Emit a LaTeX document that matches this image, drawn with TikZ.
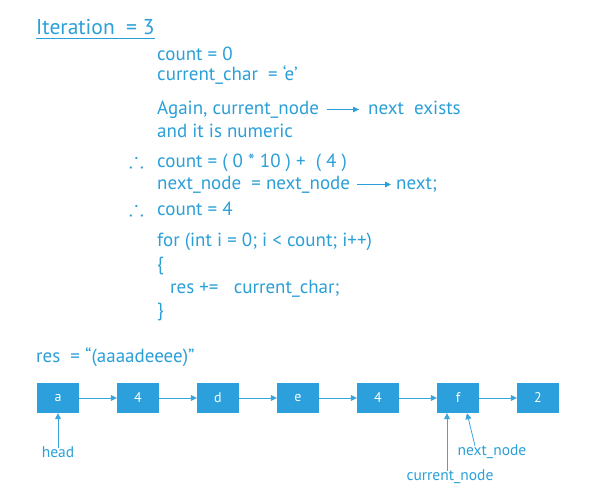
\documentclass[tikz,border=0pt]{standalone}
\usepackage{fontspec}
\usepackage{amssymb}
\setmainfont{PT Sans}
\usetikzlibrary{arrows.meta}
\definecolor{txt}{HTML}{2A9FD8}
\definecolor{boxc}{HTML}{2CA0DC}
\definecolor{arr}{HTML}{3AA6DD}
\begin{document}
\begin{tikzpicture}[x=1pt,y=-1pt,
  t/.style={anchor=base west,inner sep=0pt,text=txt,font=\fontsize{19}{22}\selectfont},
  lbl/.style={inner sep=0pt,text=txt,font=\fontsize{15.5}{18}\selectfont},
  ll/.style={boxc,fill=boxc,draw=none,minimum width=42pt,minimum height=30pt,inner sep=0pt,text=white,font=\fontsize{14}{16}\selectfont},
  link/.style={draw=arr,line width=0.8pt,-{Triangle[length=6pt,width=6pt]}},
  inarr/.style={draw=txt,line width=0.8pt,-{Triangle[length=6pt,width=5.5pt]}}]
\useasboundingbox (0,0) rectangle (595,500);
\node[t,font=\fontsize{21.5}{26}\selectfont] (iter) at (36,35) {\underline{Iteration\ \ = 3}};
\node[t] (c0) at (157,61) {count = 0};
\node[t] (cc) at (157,81) {current\_char\ \ = ‘e’};
\node[t] (ag) at (157,115) {Again, current\_node};
\node[t] (nx) at (368,115) {next\ \ exists};
\draw[inarr] ([yshift=5.5pt,xshift=8pt]ag.base east) -- ([yshift=5.5pt,xshift=-9pt]nx.base west);
\node[t] (num) at (157,138) {and it is numeric};
\node[t,font=\fontsize{22}{26}\selectfont] (th1) at (129,168) {$\therefore$};
\node[t] (c1) at (157,168) {count = ( 0 * 10 ) +\ \ ( 4 )};
\node[t] (nn) at (157,190) {next\_node\ \ = next\_node};
\node[t] (nx2) at (396,190) {next;};
\draw[inarr] ([yshift=5.5pt,xshift=7pt]nn.base east) -- ([yshift=5.5pt,xshift=-5pt]nx2.base west);
\node[t,font=\fontsize{22}{26}\selectfont] (th2) at (129,215) {$\therefore$};
\node[t] (c4) at (157,215) {count = 4};
\node[t] (for) at (157,247) {for (int i = 0; i < count; i++)};
\node[t] (ob) at (157,270) {\{};
\node[t] (res) at (170,293) {res +=\ \ \ current\_char;};
\node[t] (cb) at (157,316) {\}};
\node[t] (resv) at (36,362) {res\ \ = “(aaaadeeee)”};
\node[ll] (n1) at (58,398) {a};
\node[ll] (n2) at (138,398) {4};
\node[ll] (n3) at (218,398) {d};
\node[ll] (n4) at (298,398) {e};
\node[ll] (n5) at (378,398) {4};
\node[ll] (n6) at (458,398) {f};
\node[ll] (n7) at (538,398) {2};
\foreach \a/\b in {n1/n2,n2/n3,n3/n4,n4/n5,n5/n6,n6/n7} \draw[link] (\a) -- (\b);
\node[lbl] (head) at (58,452) {head};
\draw[link] ([yshift=-2pt]head.north) -- (n1.south);
\node[lbl] (cur) at (450,477) {current\_node};
\draw[link] ([xshift=-3pt,yshift=-1pt]cur.north) -- ([xshift=-11pt]n6.south);
\node[lbl] (nxt) at (492,452) {next\_node};
\draw[link] ([xshift=-17pt,yshift=-1pt]nxt.north) -- ([xshift=9pt]n6.south);
\end{tikzpicture}
\end{document}
